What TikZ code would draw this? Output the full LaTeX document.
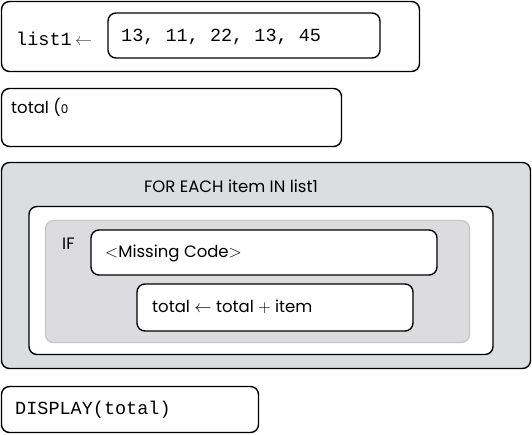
\documentclass[tikz,border=0pt]{standalone}
\usepackage{fontspec}
\setmainfont{Poppins}
\setmonofont{Liberation Mono}
\definecolor{loopgray}{HTML}{DCDDDF}
\definecolor{ifgray}{HTML}{DCDCDE}
\definecolor{ifedge}{HTML}{C6C6C8}
\begin{document}
\begin{tikzpicture}[x=1pt,y=-1pt,
  box/.style={draw=black, line width=1.4pt, rounded corners=8pt, fill=white, inner sep=0pt},
  sanstext/.style={font=\fontsize{16.5}{19}\selectfont, anchor=west, inner sep=0pt},
  monotext/.style={font=\ttfamily\fontsize{18.5}{21}\selectfont, anchor=west, inner sep=0pt}]
\useasboundingbox (0,0) rectangle (532,434);
% list1 assignment
\node[box, minimum width=418pt, minimum height=70pt] (listbox) at (210.5,36.5) {};
\node[box, minimum width=272pt, minimum height=45pt] (listval) at (244,35.5) {};
\node[monotext] (listlbl) at (16,39) {list1\,{\rmfamily\color{black!70}$\leftarrow$}};
\node[monotext] (vals) at (121,37) {13, 11, 22, 13, 45};
% total init
\node[box, minimum width=340pt, minimum height=58pt] (totbox) at (171.5,117.5) {};
\node[sanstext] (totlbl) at (11,107) {total (\fontsize{12}{14}\selectfont 0};
% loop
\node[box, fill=loopgray, minimum width=529pt, minimum height=206pt] (loopbox) at (266,265.5) {};
\node[sanstext, anchor=center] (looplbl) at (231,186) {FOR EACH item IN list1};
\node[box, minimum width=464pt, minimum height=148pt] (loopin) at (261,280.5) {};
\node[draw=ifedge, line width=1.2pt, fill=ifgray, rounded corners=8pt, inner sep=0pt, minimum width=424pt, minimum height=122pt] (ifbox) at (257.5,281.5) {};
\node[sanstext] (iflbl) at (62,244) {IF};
\node[box, minimum width=346pt, minimum height=45pt] (cond) at (264,252.5) {};
\node[sanstext] (condtxt) at (105,253) {$<$Missing Code$>$};
\node[box, minimum width=276pt, minimum height=47pt] (body) at (275,307.5) {};
\node[sanstext] (bodytxt) at (152,307) {total $\leftarrow$ total $+$ item};
% display
\node[box, minimum width=257pt, minimum height=46pt] (disp) at (130,409.5) {};
\node[monotext] (disptxt) at (15,410) {DISPLAY(total)};
\end{tikzpicture}
\end{document}
